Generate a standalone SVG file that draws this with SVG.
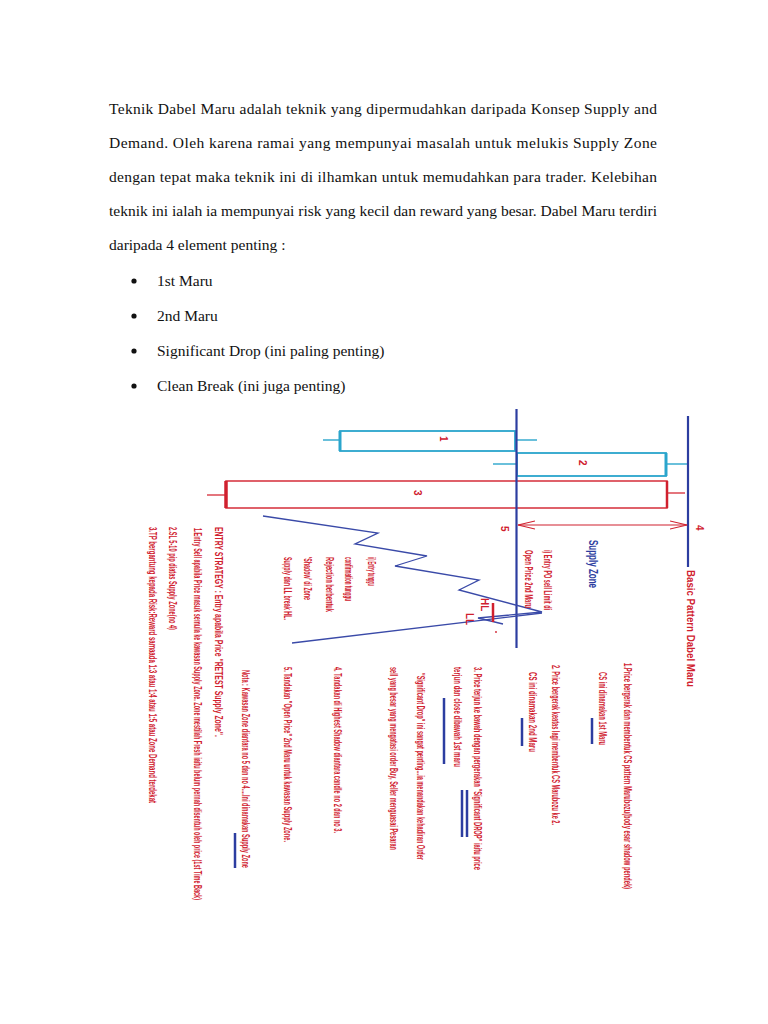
<svg xmlns="http://www.w3.org/2000/svg" width="768" height="1024" viewBox="0 0 768 1024">
<style>
.body{font-family:"Liberation Serif","Times New Roman",serif;font-size:15.5px;fill:#111}
.rt{font-family:"Liberation Sans Narrow","Liberation Sans","DejaVu Sans Condensed",sans-serif;font-size:10px;font-weight:bold;fill:#d0202e}
.bt{font-family:"Liberation Sans Narrow","Liberation Sans","DejaVu Sans Condensed",sans-serif;font-weight:bold;fill:#2c3da0}
.blue{stroke:#2c3da0;stroke-width:2.2;fill:none}
.cyan{stroke:#2aa5cc;stroke-width:1.8;fill:#fff}
.cyanw{stroke:#2aa5cc;stroke-width:1.4}
.red{stroke:#d83a45;stroke-width:1.6;fill:#fff}
.redw{stroke:#d83a45;stroke-width:1.4}
.zig{stroke:#3a4aa8;stroke-width:1.3;fill:none}
.bar{stroke:#2c3da0;stroke-width:2.5}
</style>
<defs>
<marker id="openArrow" viewBox="0 0 18 10" refX="17" refY="5" markerWidth="18" markerHeight="10" markerUnits="userSpaceOnUse" orient="auto-start-reverse">
<path d="M0,1 L17,5 L0,9" fill="none" stroke="#d0202e" stroke-width="1.2"/>
</marker>
</defs>
<rect width="768" height="1024" fill="#fff"/>

<g id="paragraph" class="body">
<text x="109" y="114" textLength="548" lengthAdjust="spacing">Teknik Dabel Maru adalah teknik yang dipermudahkan daripada Konsep Supply and</text>
<text x="109" y="148" textLength="548" lengthAdjust="spacing">Demand. Oleh karena ramai yang mempunyai masalah untuk melukis Supply Zone</text>
<text x="109" y="182" textLength="548" lengthAdjust="spacing">dengan tepat maka teknik ini di ilhamkan untuk memudahkan para trader. Kelebihan</text>
<text x="109" y="216" textLength="548" lengthAdjust="spacing">teknik ini ialah ia mempunyai risk yang kecil dan reward yang besar. Dabel Maru terdiri</text>
<text x="109" y="250">daripada 4 element penting :</text>
</g>

<g id="bullets" class="body">
<circle cx="134" cy="281" r="2.6" fill="#111"/><text x="157" y="286">1st Maru</text>
<circle cx="134" cy="316" r="2.6" fill="#111"/><text x="157" y="321">2nd Maru</text>
<circle cx="134" cy="351" r="2.6" fill="#111"/><text x="157" y="356">Significant Drop (ini paling penting)</text>
<circle cx="134" cy="386" r="2.6" fill="#111"/><text x="157" y="391">Clean Break (ini juga penting)</text>
</g>

<g id="candle1">
<line class="cyanw" x1="323" y1="440" x2="340" y2="440"/>
<line class="cyanw" x1="516" y1="440" x2="537" y2="440"/>
<rect class="cyan" x="340" y="431" width="175" height="20"/>
<line x1="340" y1="431" x2="340" y2="451" stroke="#2aa5cc" stroke-width="3"/>
<text class="rt" transform="translate(440,436) rotate(90)" font-size="11">1</text>
</g>
<g id="candle2">
<line class="cyanw" x1="493" y1="464" x2="517" y2="464"/>
<line class="cyanw" x1="666" y1="464" x2="688" y2="464"/>
<rect class="cyan" x="517" y="453" width="149" height="23"/>
<line x1="666" y1="453" x2="666" y2="476" stroke="#2aa5cc" stroke-width="3"/>
<text class="rt" transform="translate(579,460) rotate(90)" font-size="11">2</text>
</g>
<g id="candle3">
<line class="redw" x1="207" y1="495" x2="226" y2="495"/>
<line class="redw" x1="667" y1="493" x2="685" y2="493"/>
<rect class="red" x="226" y="481" width="441" height="27"/>
<line x1="226" y1="481" x2="226" y2="508" stroke="#d0202e" stroke-width="3.5"/>
<line x1="667" y1="481" x2="667" y2="508" stroke="#d0202e" stroke-width="2.5"/>
<text class="rt" transform="translate(414,490) rotate(90)" font-size="11">3</text>
</g>

<g id="line5">
<line class="blue" x1="516.5" y1="409" x2="516.5" y2="648"/>
<text class="rt" transform="translate(501,526) rotate(90)" font-size="11">5</text>
</g>
<g id="line4">
<line class="blue" x1="688" y1="416" x2="688" y2="567"/>
<text class="rt" transform="translate(696,525) rotate(90)" font-size="11">4</text>
</g>

<g id="connectors">
<line x1="518" y1="525" x2="687" y2="525" stroke="#d0202e" stroke-width="1.2" marker-start="url(#openArrow)" marker-end="url(#openArrow)"/>
<polyline class="zig" points="263,516 378,533 355,544 427,556 395,566 479,580 459,590 542,612 478,618 503,624"/>
<line class="zig" x1="292" y1="643" x2="542" y2="613"/>
</g>

<g id="hl-ll">
<line x1="493" y1="603" x2="493" y2="622" stroke="#d0202e" stroke-width="2.5"/>
<text class="rt" transform="translate(481,598) rotate(90)" font-size="8">HL</text>
<text class="rt" transform="translate(466,613) rotate(90)" font-size="8">LL</text>
<circle cx="496" cy="632" r="0.9" fill="#d0202e"/>
</g>

<g id="title">
<text class="rt" transform="translate(687,570) rotate(90)" font-size="16" textLength="117" lengthAdjust="spacingAndGlyphs">Basic Pattern Dabel Maru</text>
</g>
<g id="supply-zone">
<text class="bt" transform="translate(588.5,540) rotate(90)" font-size="13" textLength="48" lengthAdjust="spacingAndGlyphs">Supply Zone</text>
</g>
<g id="entry-po">
<text class="rt" transform="translate(543.5,550) rotate(90)" textLength="60" lengthAdjust="spacingAndGlyphs">i) Entry PO sell Limit di</text>
<text class="rt" transform="translate(524.5,550) rotate(90)" textLength="58" lengthAdjust="spacingAndGlyphs">Open Price 2nd Maru</text>
</g>
<g id="entry-confirm">
<text class="rt" transform="translate(367.5,557) rotate(90)" textLength="29" lengthAdjust="spacingAndGlyphs">ii) Entry tunggu</text>
<text class="rt" transform="translate(344.5,557) rotate(90)" textLength="44" lengthAdjust="spacingAndGlyphs">confirmation tunggu</text>
<text class="rt" transform="translate(325.5,557) rotate(90)" textLength="55" lengthAdjust="spacingAndGlyphs">Rejection berbentuk</text>
<text class="rt" transform="translate(303.5,557) rotate(90)" textLength="43" lengthAdjust="spacingAndGlyphs">'Shadow' di Zone</text>
<text class="rt" transform="translate(283.5,557) rotate(90)" textLength="63" lengthAdjust="spacingAndGlyphs">Supply dan LL break HL.</text>
</g>

<g id="steps">
<text class="rt" transform="translate(623.5,663) rotate(90) scale(0.55,1)" textLength="411" lengthAdjust="spacingAndGlyphs">1.Price bergerak dan membentuk CS pattern Marubozu(body esar shadow pendek)</text>
<text class="rt" transform="translate(598.5,672) rotate(90)" textLength="73" lengthAdjust="spacingAndGlyphs">CS ini dinamakan 1st Maru</text>
<line class="bar" x1="592" y1="718" x2="592" y2="744"/>
<text class="rt" transform="translate(551.5,665) rotate(90)" textLength="160" lengthAdjust="spacingAndGlyphs">2. Price bergerak keatas lagi membentuk CS Marubozu ke 2.</text>
<text class="rt" transform="translate(528.5,672) rotate(90)" textLength="80" lengthAdjust="spacingAndGlyphs">CS ini dinamakan 2nd Maru</text>
<line class="bar" x1="522" y1="718" x2="522" y2="746"/>
<text class="rt" transform="translate(473.5,667) rotate(90)" textLength="203" lengthAdjust="spacingAndGlyphs">3. Price terjun ke bawah dengan pergerakan "Significant DROP" iaitu price</text>
<text class="rt" transform="translate(453.5,667) rotate(90)" textLength="100" lengthAdjust="spacingAndGlyphs">terjun dan close dibawah 1st maru</text>
<line class="bar" x1="444" y1="698" x2="444" y2="764" stroke-width="2"/>
<line class="bar" x1="462" y1="790" x2="462" y2="837" stroke-width="2.2"/>
<line class="bar" x1="467" y1="790" x2="467" y2="837" stroke-width="2.2"/>
<text class="rt" transform="translate(416.5,673) rotate(90)" textLength="187" lengthAdjust="spacingAndGlyphs">"Significant Drop" ini sangat penting...ia menandakan kehadiran Order</text>
<text class="rt" transform="translate(389.5,667) rotate(90)" textLength="183" lengthAdjust="spacingAndGlyphs">sell yang besar yang mengatasi order Buy, Seller menguasai Pesaran</text>
<text class="rt" transform="translate(333.5,667) rotate(90)" textLength="166" lengthAdjust="spacingAndGlyphs">4. Tandakan di Highest Shadow diantara candle no 2 dan no 3.</text>
<text class="rt" transform="translate(283.5,667) rotate(90)" textLength="175" lengthAdjust="spacingAndGlyphs">5. Tandakan "Open Price" 2nd Maru untuk kawasan Supply Zone.</text>
</g>
<g id="nota">
<text class="rt" transform="translate(241.5,670) rotate(90)" textLength="198" lengthAdjust="spacingAndGlyphs">Nota : Kawasan Zone diantara no 5 dan no 4....Ini dinamakan Supply Zone</text>
<line class="bar" x1="235" y1="833" x2="235" y2="868" stroke-width="2"/>
</g>
<g id="entry-strategy">
<text class="rt" transform="translate(214.5,527) rotate(90)" textLength="210" lengthAdjust="spacingAndGlyphs">ENTRY STRATEGY : Entry apabila Price "RETEST Supply Zone".</text>
<text class="rt" transform="translate(193.5,528) rotate(90) scale(0.5,1)" textLength="744" lengthAdjust="spacingAndGlyphs">1.Entry Sell apabila Price masuk semula ke kawasan Supply Zone. Zone mestilah Fresh iaitu belum pernah disentuh oleh price (1st Time Back)</text>
<text class="rt" transform="translate(168.5,527) rotate(90)" textLength="103" lengthAdjust="spacingAndGlyphs">2.SL 5-10 pip diatas Supply Zone(no 4)</text>
<text class="rt" transform="translate(148.5,527) rotate(90)" textLength="276" lengthAdjust="spacingAndGlyphs">3.TP bergantung kepada Risk:Reward  samaada 1:3 atau 1:4 atau 1:5 atau Zone Demand terdekat</text>
</g>
</svg>
